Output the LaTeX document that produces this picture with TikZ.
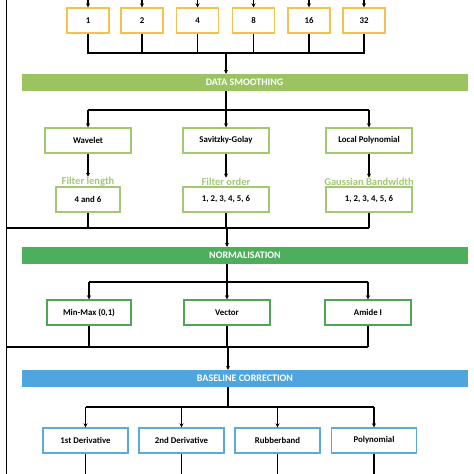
\documentclass[tikz,border=0pt]{standalone}
\usepackage{fontspec}
\setmainfont{Carlito}
\usetikzlibrary{arrows.meta,positioning}
\definecolor{goldbox}{HTML}{F2C14E}
\definecolor{smoothbar}{HTML}{9BC461}
\definecolor{smoothtxt}{HTML}{A3C874}
\definecolor{normbar}{HTML}{4DAE5B}
\definecolor{normbox}{HTML}{4CA653}
\definecolor{basebar}{HTML}{4FA6DE}
\definecolor{basebox}{HTML}{5AAADB}
\tikzset{every node/.style={font=\bfseries\fontsize{8.8}{10}\selectfont},
    numbox/.style={draw=goldbox,line width=1.4pt,minimum width=42pt,minimum height=25pt,inner sep=0pt},
    stagebar/.style={minimum width=446pt,minimum height=17pt,inner sep=0pt,text=white,
        font=\bfseries\fontsize{10}{11}\selectfont},
    smoothbox/.style={draw=smoothtxt,line width=1.4pt,minimum width=86pt,minimum height=25pt,inner sep=0pt},
    normbx/.style={draw=normbox,line width=1.4pt,minimum width=86pt,minimum height=25pt,inner sep=0pt},
    basebx/.style={draw=basebox,line width=1.4pt,minimum width=85pt,minimum height=25pt,inner sep=0pt},
    paramlbl/.style={text=smoothtxt,inner sep=0pt,font=\bfseries\fontsize{10.5}{11}\selectfont},
    link/.style={draw,line width=1.2pt},
    flow/.style={link,-{Stealth[length=4pt,width=4pt]}}}

\begin{document}
\begin{tikzpicture}[x=1pt,y=-1pt]
	\useasboundingbox (0,0) rectangle (474,474);
	% top row
	\foreach \v/\x in {1/88,2/142,4/197.5,8/253.5,16/309,32/364}{
		\coordinate (in\v) at (\x,0);
		\node[numbox] (n\v) at (\x,20.5) {\v};
		\draw[flow] (in\v) -- (n\v);
	}
	\node[stagebar,fill=smoothbar] (smooth) at (244.5,82.5) {DATA SMOOTHING};
	\coordinate (m1) at (226,53);
	\foreach \v in {1,2,4,8,16,32}
		\draw[link] (n\v.south) |- (m1);
	\draw[link] (n1.south |- m1) -- (n32.south |- m1);
	\draw[flow] (m1) -- (smooth.north -| m1);
	% smoothing
	\node[smoothbox] (wav) at (88,140.5) {Wavelet};
	\node[smoothbox] (sg) at (226,140.5) {Savitzky-Golay};
	\node[smoothbox] (lp) at (369,140.5) {Local Polynomial};
	\node[paramlbl] (wavl) at (88,181.5) {Filter length};
	\node[paramlbl] (sgl) at (226,181.5) {Filter order};
	\node[paramlbl] (lpl) at (369,181.5) {Gaussian Bandwidth};
	\node[smoothbox,minimum width=64pt] (wavv) at (88,199.5) {4 and 6};
	\node[smoothbox] (sgv) at (226,199.5) {1, 2, 3, 4, 5, 6};
	\node[smoothbox] (lpv) at (369,199.5) {1, 2, 3, 4, 5, 6};
	\coordinate (s1) at (226,110);
	\draw[link] (smooth.south -| s1) -- (s1);
	\draw[link] (wav.north |- s1) -- (lp.north |- s1);
	\foreach \b in {wav,sg,lp}{
		\draw[flow] (\b.north |- s1) -- (\b);
		\draw[flow] (\b) -- (\b l);
	}
	% normalisation
	\node[stagebar,fill=normbar] (norm) at (245,255.5) {NORMALISATION};
	\coordinate (lt) at (6.5,0);
	\coordinate (lb) at (6.5,474);
	\coordinate (j1) at (227,228);
	\draw[link] (lt) -- (lb);
	\draw[link] (lt |- j1) -- (lpv.south |- j1);
	\foreach \b in {wavv,sgv,lpv}
		\draw[link] (\b) -- (\b.south |- j1);
	\draw[flow] (j1) -- (norm.north -| j1);
	\node[normbx,minimum width=84pt] (minmax) at (89,312.5) {Min-Max (0,1)};
	\node[normbx] (vec) at (227,312.5) {Vector};
	\node[normbx] (amide) at (368,312.5) {Amide I};
	\coordinate (s2) at (227,282);
	\draw[link] (norm.south -| s2) -- (s2);
	\draw[link] (minmax.north |- s2) -- (amide.north |- s2);
	\foreach \b in {minmax,vec,amide}
		\draw[flow] (\b.north |- s2) -- (\b);
	% baseline
	\node[stagebar,fill=basebar] (base) at (245,378.5) {BASELINE CORRECTION};
	\coordinate (j2) at (228,347);
	\draw[link] (lt |- j2) -- (amide.south |- j2);
	\foreach \b in {minmax,vec,amide}
		\draw[link] (\b) -- (\b.south |- j2);
	\draw[flow] (j2) -- (base.north -| j2);
	\node[basebx] (d1) at (85.5,440.5) {1st Derivative};
	\node[basebx] (d2) at (181.5,440.5) {2nd Derivative};
	\node[basebx] (rb) at (277.5,440.5) {Rubberband};
	\node[basebx] (poly) at (374,440.5) {Polynomial};
	\coordinate (s3) at (228,407);
	\draw[link] (base.south -| s3) -- (s3);
	\draw[link] (d1.north |- s3) -- (poly.north |- s3);
	\foreach \b in {d1,d2,rb,poly}{
		\draw[flow] (\b.north |- s3) -- (\b);
		\draw[link] (\b) -- (\b.south |- lb);
	}
\end{tikzpicture}
\end{document}
